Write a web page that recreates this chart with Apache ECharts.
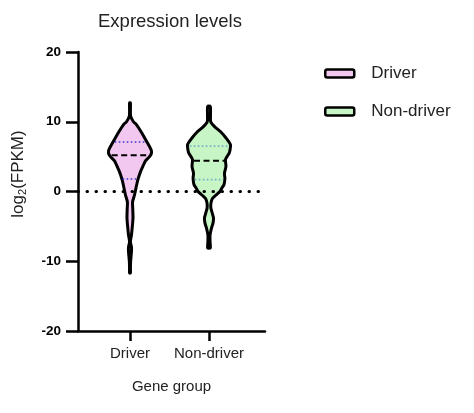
<!DOCTYPE html>
<html>
<head>
<meta charset="utf-8">
<script src="https://cdn.jsdelivr.net/npm/echarts@6/dist/echarts.min.js"></script>
<style>
  html, body { margin: 0; padding: 0; background: #fff; }
  #chart { width: 474px; height: 413px; }
</style>
</head>
<body>
<div id="chart"></div>
<script>
// groups on the x axis
const groups = ['Driver', 'Non-driver']
const groupColors = ['#f2c8f0', '#c8f5c6']
const quartileColors = ['#3b3bd0', '#6cb0c4']

// violin outline: y levels and relative density (1 = widest)
const driverY = [12.7, 11.5, 10.8, 10.0, 9.6, 8.5, 7.2, 6.0, 5.5, 5.0, 4.4, 3.8, 3.0, 2.4, 1.5, 0.5, -0.5, -1.5, -2.5, -3.8, -5.0, -6.2, -7.2, -8.0, -8.6, -9.3, -10.0, -11.0, -11.7]
const driverDensity = [0.02, 0.02, 0.03, 0.16, 0.30, 0.53, 0.77, 0.98, 1.00, 0.91, 0.72, 0.63, 0.51, 0.44, 0.35, 0.28, 0.21, 0.12, 0.13, 0.14, 0.11, 0.07, 0.02, 0.07, 0.07, 0.05, 0.03, 0.02, 0.02]
const nonDriverY = [12.2, 11.0, 10.0, 9.3, 8.6, 7.6, 6.7, 6.0, 5.5, 4.6, 3.6, 2.6, 1.9, 1.0, 0.5, 0, -0.5, -1.0, -1.7, -2.4, -3.2, -3.8, -4.5, -5.2, -6.2, -7.2, -8.1]
const nonDriverDensity = [0.06, 0.07, 0.08, 0.26, 0.53, 0.81, 1.00, 0.98, 0.94, 0.77, 0.79, 0.72, 0.74, 0.70, 0.60, 0.51, 0.33, 0.16, 0.09, 0.09, 0.16, 0.21, 0.19, 0.12, 0.05, 0.05, 0.06]

// [lower quartile, median, upper quartile]
const driverStats = [1.8, 5.2, 7.1]
const nonDriverStats = [1.7, 4.4, 6.5]

const violins = [
  { y: driverY, d: driverDensity, stats: driverStats },
  { y: nonDriverY, d: nonDriverDensity, stats: nonDriverStats }
]

const halfWidth = 0.272 // x units for density 1
const font = 'Liberation Sans, Arial, Helvetica, sans-serif'

function densityAt(v, y) {
  for (let i = 0; i < v.y.length - 1; i++) {
    const a = v.y[i], b = v.y[i + 1]
    if (y <= a && y >= b) {
      const t = (a - y) / (a - b)
      return v.d[i] + (v.d[i + 1] - v.d[i]) * t
    }
  }
  return 0
}

function violinRenderer(i) {
  return function (params, api) {
    const v = violins[i]
    const cx = api.value(0)
    const pts = []
    for (let k = 0; k < v.y.length; k++) {
      pts.push(api.coord([cx + v.d[k] * halfWidth, v.y[k]]))
    }
    for (let k = v.y.length - 1; k >= 0; k--) {
      pts.push(api.coord([cx - v.d[k] * halfWidth, v.y[k]]))
    }
    const children = [{
      type: 'polygon',
      shape: { points: pts, smooth: 0.25 },
      style: { fill: groupColors[i], stroke: '#000', lineWidth: 3, lineJoin: 'round' }
    }]
    v.stats.forEach((s, k) => {
      const w = densityAt(v, s) * halfWidth * 0.9
      const p1 = api.coord([cx - w, s])
      const p2 = api.coord([cx + w, s])
      const median = k === 1
      children.push({
        type: 'line',
        shape: { x1: p1[0], y1: p1[1], x2: p2[0], y2: p2[1] },
        style: median
          ? { stroke: '#000', lineWidth: 2, lineDash: [6, 3.5] }
          : { stroke: quartileColors[i], lineWidth: 1.6, lineDash: [1.6, 2.4] }
      })
    })
    return { type: 'group', children: children }
  }
}

const chart = echarts.init(document.getElementById('chart'))
chart.setOption({
  animation: false,
  backgroundColor: '#fff',
  title: {
    text: 'Expression levels',
    left: 93,
    top: 7,
    textStyle: { fontFamily: font, fontSize: 18.5, fontWeight: 'normal', color: '#222' }
  },
  legend: {
    orient: 'vertical',
    left: 319,
    top: 60,
    itemGap: 21,
    icon: 'roundRect',
    itemWidth: 29,
    itemHeight: 8,
    textStyle: { fontFamily: font, fontSize: 17, color: '#222', padding: [0, 0, 0, 12] },
    data: groups.map((g, i) => ({
      name: g,
      itemStyle: { color: groupColors[i], borderColor: '#000', borderWidth: 2.5 }
    }))
  },
  grid: { left: 78, right: 209, top: 52, bottom: 82 },
  xAxis: {
    type: 'value',
    min: 0.342,
    max: 2.709,
    name: 'Gene group',
    nameLocation: 'middle',
    nameGap: 48,
    nameTextStyle: { fontFamily: font, fontSize: 15, color: '#222' },
    axisLine: { onZero: false, lineStyle: { color: '#000', width: 2.5 } },
    axisTick: { show: true, customValues: [1, 2], length: 10, lineStyle: { color: '#000', width: 2.5 } },
    axisLabel: {
      customValues: [1, 2],
      margin: 15,
      fontFamily: font, fontSize: 15, color: '#222',
      formatter: v => groups[Math.round(v) - 1] || ''
    },
    splitLine: { show: false }
  },
  yAxis: {
    type: 'value',
    min: -20,
    max: 20,
    interval: 10,
    name: '{a|log}{s|2}{a|(FPKM)}',
    nameLocation: 'middle',
    nameGap: 50,
    nameTextStyle: {
      padding: [0, 0, 0, 35],
      rich: {
        a: { fontFamily: font, fontSize: 17, color: '#222' },
        s: { fontFamily: font, fontSize: 11, color: '#222', verticalAlign: 'bottom', padding: [8, 0, 0, 0] }
      }
    },
    axisLine: { show: true, onZero: false, lineStyle: { color: '#000', width: 2.5 } },
    axisTick: { show: true, length: 12, lineStyle: { color: '#000', width: 2.5 } },
    axisLabel: { margin: 17, fontFamily: font, fontSize: 13.5, fontWeight: 'bold', color: '#000' },
    splitLine: { show: false }
  },
  series: [
    {
      name: 'zero',
      type: 'line',
      data: [],
      z: 1,
      markLine: {
        silent: true,
        symbol: 'none',
        label: { show: false },
        lineStyle: { color: '#000', width: 3, type: [0.5, 8.5], cap: 'round' },
        data: [{ yAxis: 0 }]
      }
    }
  ].concat(groups.map((g, i) => ({
    name: g,
    type: 'custom',
    z: 3,
    itemStyle: { color: groupColors[i], borderColor: '#000' },
    renderItem: violinRenderer(i),
    data: [[i + 1, 0]],
    encode: { x: 0, y: 1 }
  })))
})
</script>
</body>
</html>
